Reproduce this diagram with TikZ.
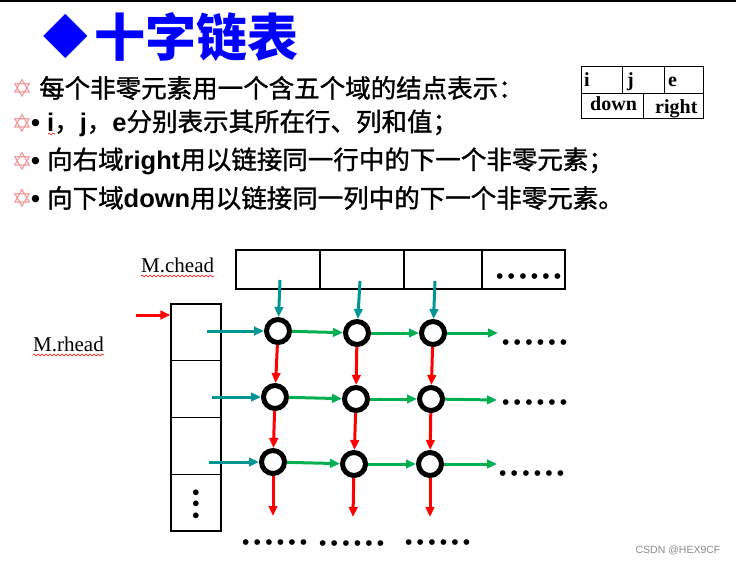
\documentclass[tikz,border=0pt]{standalone}
\usepackage{fontspec}
\setmainfont{Liberation Serif}
\newfontfamily\cjkf{Noto Sans CJK SC}
\newfontfamily\cjkt{Noto Sans CJK SC}[FakeBold=1.2]
\newfontfamily\arialf{Liberation Sans}
\newfontfamily\djf{DejaVu Sans}
\usetikzlibrary{arrows.meta,decorations.pathmorphing}
\definecolor{tealc}{RGB}{0,150,150}
\definecolor{greenc}{RGB}{0,176,80}
\definecolor{redc}{RGB}{255,0,0}
\definecolor{pinkc}{RGB}{240,150,150}
\definecolor{titleblue}{RGB}{0,0,255}
\newcommand\fsz[1]{\fontsize{#1}{#1}\selectfont}
\newcommand\dotgap{\hspace{4.2pt}}
\newcommand\sixdots{•\dotgap•\dotgap•\dotgap•\dotgap•\dotgap•}
\begin{document}
\begin{tikzpicture}[x=1pt,y=-1pt,
  circ/.style={circle,draw,line width=5pt,minimum size=23pt,inner sep=0pt},
  arr/.style={line width=3pt,-{Triangle[length=10pt,width=8.5pt]}},
  garr/.style={arr,draw=greenc},
  rarr/.style={arr,draw=redc},
  tarr/.style={arr,draw=tealc},
  cell/.style={draw,line width=1.2pt,inner sep=0pt},
  dotsh/.style={font=\arialf\fsz{21},inner sep=0pt,anchor=west},
  txtline/.style={inner sep=0pt,anchor=west,font=\fsz{25.5}},
  starsym/.style={inner sep=0pt,text=pinkc,font=\djf\fsz{25}},
  squig/.style={draw=redc,line width=0.6pt,decorate,decoration={snake,amplitude=0.9pt,segment length=4pt}},
  tbl/.style={inner sep=0pt,anchor=base west,font=\bfseries\fsz{20}},
  lab/.style={inner sep=0pt,anchor=base west,font=\fsz{21}}
]
\useasboundingbox (0,0) rectangle (736,565);
\fill[white] (0,0) rectangle (736,565);
\draw[line width=2pt] (0,1) -- (736,1);

% title
\node[inner sep=0pt,text=titleblue,font=\djf\fsz{58}] (dia) at (66,36) {◆};
\node[inner sep=0pt,anchor=west,text=titleblue,font=\cjkf\bfseries\fsz{51}] (title) at (94,37) {十字链表};

% text lines
\node[starsym] (s1) at (22,88) {✡};
\node[starsym] (s2) at (22,123) {✡};
\node[starsym] (s3) at (22,161) {✡};
\node[starsym] (s4) at (22,198) {✡};
\node[txtline] (l1) at (39,88) {\cjkt 每个非零元素用一个含五个域的结点表示：};
\node[txtline] (l2) at (31,123) {{\arialf\bfseries • i}{\cjkt ，}{\arialf\bfseries j}{\cjkt ，}{\arialf\bfseries e}{\cjkt 分别表示其所在行、列和值；}};
\node[txtline] (l3) at (31,161) {{\arialf\bfseries • }{\cjkt 向右域}{\arialf\bfseries right}{\cjkt 用以链接同一行中的下一个非零元素；}};
\node[txtline] (l4) at (31,198) {{\arialf\bfseries • }{\cjkt 向下域}{\arialf\bfseries down}{\cjkt 用以链接同一列中的下一个非零元素。}};
\coordinate (sq1) at (48,134);
\draw[squig] (sq1) -- ++(7,0);

% node structure table
\draw[line width=1pt] (581,66) rectangle (703,118);
\draw[line width=1pt] (581,93) -- (703,93);
\draw[line width=1pt] (622,66) -- (622,93);
\draw[line width=1pt] (664,66) -- (664,93);
\draw[line width=1pt] (643,93) -- (643,118);
\node[tbl] (ti) at (584,86) {i};
\node[tbl] (tj) at (627,86) {j};
\node[tbl] (te) at (668,86) {e};
\node[tbl] (td) at (590,110) {down};
\node[tbl] (tr) at (655,113) {right};

% labels
\node[lab] (mc) at (141,272) {M.chead};
\node[lab] (mr) at (33,351) {M.rhead};
\draw[squig] ([yshift=-4pt]mc.base west) -- ([yshift=-4pt]mc.base east);
\draw[squig] ([yshift=-4pt]mr.base west) -- ([yshift=-4pt]mr.base east);

% column head
\node[cell,minimum width=84pt,minimum height=39pt] (c1) at (278,269.5) {};
\node[cell,minimum width=84pt,minimum height=39pt] (c2) at (362,269.5) {};
\node[cell,minimum width=78pt,minimum height=39pt] (c3) at (443,269.5) {};
\node[cell,minimum width=83pt,minimum height=39pt] (c4) at (523.5,269.5) {};
\node[dotsh] (cd) at (496,279) {\sixdots};

% row head
\node[cell,minimum width=50pt,minimum height=56.75pt] (r1) at (196,332.4) {};
\node[cell,minimum width=50pt,minimum height=56.75pt] (r2) at (196,389.1) {};
\node[cell,minimum width=50pt,minimum height=56.75pt] (r3) at (196,445.9) {};
\node[cell,minimum width=50pt,minimum height=56.75pt] (r4) at (196,502.6) {};
\node[dotsh,anchor=center,rotate=90] (vd) at (198,504) {•\dotgap•\dotgap•};

% elements
\node[circ] (a11) at (278,331) {};
\node[circ] (a12) at (357,333) {};
\node[circ] (a13) at (433,333) {};
\node[circ] (a21) at (275,397) {};
\node[circ] (a22) at (356,399) {};
\node[circ] (a23) at (431,399) {};
\node[circ] (a31) at (273,462) {};
\node[circ] (a32) at (354,464) {};
\node[circ] (a33) at (430,464) {};

% red arrow into row head
\coordinate (rin) at (136,315);
\draw[rarr] (rin) -- (rin -| r1.west);

% teal from column head
\coordinate (t1) at (280,280);
\coordinate (t2) at (360,281);
\coordinate (t3) at (435,281);
\draw[tarr] (t1) -- (a11);
\draw[tarr] (t2) -- (a12);
\draw[tarr] (t3) -- (a13);

% teal from row head
\coordinate (h1) at (207,331);
\coordinate (h2) at (212,397);
\coordinate (h3) at (209,462);
\draw[tarr] (h1) -- (a11);
\draw[tarr] (h2) -- (a21);
\draw[tarr] (h3) -- (a31);

% green right links
\draw[garr] (a11) -- (a12);
\draw[garr] (a12) -- (a13);
\draw[garr] (a21) -- (a22);
\draw[garr] (a22) -- (a23);
\draw[garr] (a31) -- (a32);
\draw[garr] (a32) -- (a33);
\coordinate (e1) at (498,333);
\coordinate (e2) at (497,400);
\coordinate (e3) at (497,464);
\draw[garr] (a13) -- (e1);
\draw[garr] (a23) -- (e2);
\draw[garr] (a33) -- (e3);
\node[dotsh] (d1) at (502,345) {\sixdots};
\node[dotsh] (d2) at (502,405) {\sixdots};
\node[dotsh] (d3) at (499,476) {\sixdots};

% red down links
\draw[rarr] (a11) -- (a21);
\draw[rarr] (a12) -- (a22);
\draw[rarr] (a13) -- (a23);
\draw[rarr] (a21) -- (a31);
\draw[rarr] (a22) -- (a32);
\draw[rarr] (a23) -- (a33);
\coordinate (b1) at (273,516);
\coordinate (b2) at (353,517);
\coordinate (b3) at (430,517);
\draw[rarr] (a31) -- (b1);
\draw[rarr] (a32) -- (b2);
\draw[rarr] (a33) -- (b3);
\node[dotsh] (f1) at (242,545) {\sixdots};
\node[dotsh] (f2) at (319,546) {\sixdots};
\node[dotsh] (f3) at (405,545) {\sixdots};

% watermark
\node[inner sep=0pt,text=black!45,font=\arialf\fsz{10.5}] (wm) at (678,550) {CSDN @HEX9CF};
\end{tikzpicture}
\end{document}
